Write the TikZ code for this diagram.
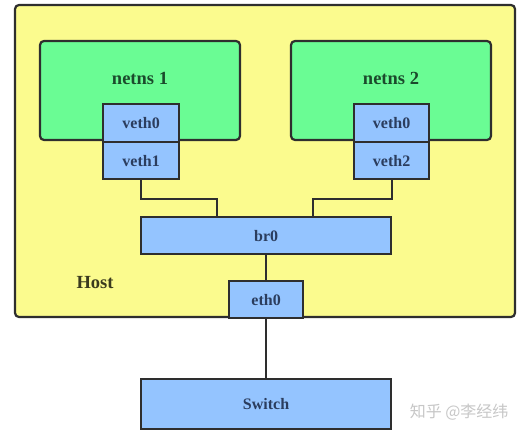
\documentclass[tikz,border=0pt]{standalone}
\usepackage{fontspec}
\setmainfont{Liberation Serif}
\newfontfamily\cjk{Noto Sans CJK SC}
\definecolor{hostfill}{HTML}{FBFB8E}
\definecolor{nsfill}{HTML}{6AFC94}
\definecolor{ifill}{HTML}{94C4FF}
\definecolor{ltext}{HTML}{2B3D5E}
\definecolor{nstext}{HTML}{1B4A2C}
\definecolor{hosttext}{HTML}{3A3A1E}
\definecolor{edge}{HTML}{2E2E2E}
\begin{document}
\begin{tikzpicture}[x=1pt,y=-1pt,
  box/.style={draw=edge,line width=2.2pt,fill=ifill,inner sep=0pt,anchor=north west,font=\bfseries\fontsize{16}{18}\selectfont,text=ltext},
  wire/.style={draw=edge,line width=2.2pt}]
\useasboundingbox (0,0) rectangle (526,438);
\fill[white] (0,0) rectangle (526,438);
% host
\draw[edge,line width=2.2pt,fill=hostfill,rounded corners=4pt] (15,5) rectangle (515,317);
\node[text=hosttext,font=\bfseries\fontsize{18.5}{20}\selectfont] (hostlbl) at (95,283) {Host};
% namespaces
\draw[edge,line width=2.2pt,fill=nsfill,rounded corners=4pt] (40,41) rectangle (240,140);
\node[text=nstext,font=\bfseries\fontsize{18.5}{20}\selectfont] (ns1) at (140,78) {netns 1};
\draw[edge,line width=2.2pt,fill=nsfill,rounded corners=4pt] (291,41) rectangle (491,140);
\node[text=nstext,font=\bfseries\fontsize{18.5}{20}\selectfont] (ns2) at (391,78) {netns 2};
% interfaces
\node[box,minimum width=76pt,minimum height=38pt] (va) at (102,103) {veth0};
\node[box,minimum width=76pt,minimum height=37pt] (v1) at (102,141) {veth1};
\node[box,minimum width=75pt,minimum height=38pt] (vb) at (353,103) {veth0};
\node[box,minimum width=75pt,minimum height=37pt] (v2) at (353,141) {veth2};
\node[box,minimum width=250pt,minimum height=37pt] (br) at (140,216) {br0};
\node[box,minimum width=74pt,minimum height=37pt] (eth) at (228,280) {eth0};
\node[box,minimum width=250pt,minimum height=50pt] (sw) at (140,378) {Switch};
% wires
\draw[wire] (v1.south) -- ++(0,19) -| ([xshift=-49pt]br.north);
\draw[wire] (v2.south) -- ++(0,19) -| ([xshift=47pt]br.north);
\draw[wire] (br.south) -- (eth.north);
\draw[wire] (eth.south) -- (sw.north);
% watermark
\node[text=black!22,font=\cjk\fontsize{16}{18}\selectfont,anchor=east] (wm) at (512,412) {知乎 @李经纬};
\end{tikzpicture}
\end{document}
